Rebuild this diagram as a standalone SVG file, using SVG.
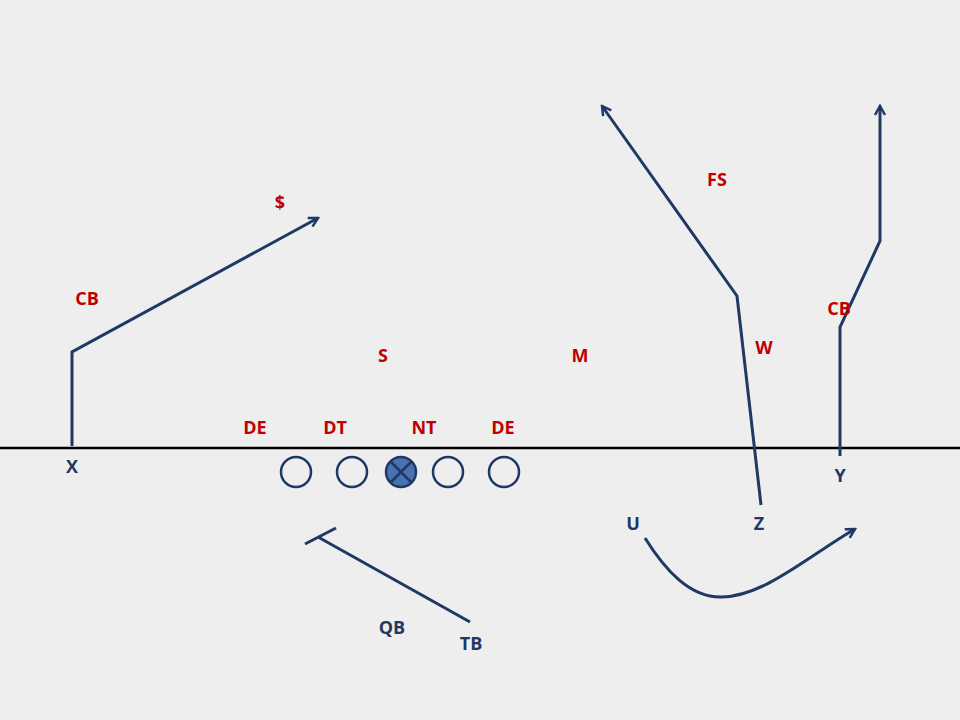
<svg xmlns="http://www.w3.org/2000/svg" width="960" height="720" viewBox="0 0 960 720">
<style>
.bg{fill:#eeeeee}
.off{font-family:"Open Sans","Liberation Sans",sans-serif;font-weight:bold;font-size:18px;fill:#1f3864;text-anchor:middle}
.def{font-family:"Open Sans","Liberation Sans",sans-serif;font-weight:bold;font-size:18px;fill:#c00000;text-anchor:middle}
.route{fill:none;stroke:#1f3864;stroke-width:3;stroke-linejoin:miter}
.ol{fill:none;stroke:#1f3864;stroke-width:2.5}
</style>
<defs>
<marker id="arr" viewBox="0 0 12 12" refX="10" refY="6" markerWidth="12" markerHeight="12" markerUnits="userSpaceOnUse" orient="auto">
<path d="M1,1 L10,6 L1,11" fill="none" stroke="#1f3864" stroke-width="2.5"/>
</marker>
</defs>
<rect class="bg" x="0" y="0" width="960" height="720"/>
<line x1="0" y1="448" x2="960" y2="448" stroke="#000" stroke-width="2.5"/>
<g id="connectors">
<polyline class="route" points="72,446 72,352 318,218" marker-end="url(#arr)"/>
<polyline class="route" points="761,505 737,296 602,106" marker-end="url(#arr)"/>
<polyline class="route" points="840,456 840,327 880,241 880,106" marker-end="url(#arr)"/>
<line class="route" x1="470" y1="622" x2="318" y2="537"/>
<line class="route" x1="305" y1="544" x2="336" y2="528"/>
<path class="route" d="M645,538 C665,570 690,598 722,597 C765,596 810,555 855,529" marker-end="url(#arr)"/>
</g>
<g id="ol1"><circle class="ol" cx="296" cy="472" r="15"/></g>
<g id="ol2"><circle class="ol" cx="352" cy="472" r="15"/></g>
<g id="center"><circle cx="401" cy="472" r="15" fill="#4a72b0" stroke="#1f3864" stroke-width="2.5"/><path d="M391,462 L411,482 M411,462 L391,482" stroke="#1f3864" stroke-width="2.5"/></g>
<g id="ol4"><circle class="ol" cx="448" cy="472" r="15"/></g>
<g id="ol5"><circle class="ol" cx="504" cy="472" r="15"/></g>
<g id="X"><text class="off" x="72" y="473">X</text></g>
<g id="Y"><text class="off" x="840" y="482">Y</text></g>
<g id="U"><text class="off" x="633" y="530">U</text></g>
<g id="Z"><text class="off" x="759" y="530">Z</text></g>
<g id="QB"><text class="off" x="392" y="634">QB</text></g>
<g id="TB"><text class="off" x="471" y="650">TB</text></g>
<g id="CB1"><text class="def" x="87" y="305">CB</text></g>
<g id="dollar"><text class="def" x="280" y="209">$</text></g>
<g id="S"><text class="def" x="383" y="362">S</text></g>
<g id="M"><text class="def" x="580" y="362">M</text></g>
<g id="DE1"><text class="def" x="255" y="434">DE</text></g>
<g id="DT"><text class="def" x="335" y="434">DT</text></g>
<g id="NT"><text class="def" x="424" y="434">NT</text></g>
<g id="DE2"><text class="def" x="503" y="434">DE</text></g>
<g id="FS"><text class="def" x="717" y="186">FS</text></g>
<g id="W"><text class="def" x="764" y="354">W</text></g>
<g id="CB2"><text class="def" x="839" y="315">CB</text></g>
</svg>
